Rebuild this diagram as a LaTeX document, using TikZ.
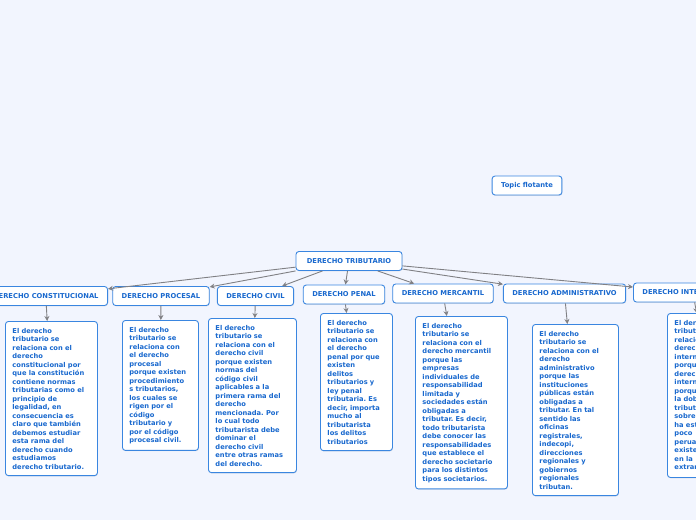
\documentclass[tikz,border=0pt]{standalone}
\usepackage{fontspec}
\setmainfont{DejaVu Sans}
\usetikzlibrary{arrows.meta,shadows}
\definecolor{paper}{RGB}{242,245,254}
\definecolor{edgeblue}{RGB}{58,134,224}
\definecolor{inkblue}{RGB}{24,104,206}
\definecolor{linkgray}{RGB}{128,128,132}
\frenchspacing
\tikzset{
  topicbox/.style={draw=edgeblue,line width=0.9pt,fill=white,rounded corners=3pt,
    text=inkblue,font=\bfseries\fontsize{6.75}{7}\selectfont,minimum height=19pt,
    inner xsep=9pt,drop shadow={shadow xshift=0.5pt,shadow yshift=-0.8pt,opacity=0.2}},
  notebox/.style={draw=edgeblue,line width=0.9pt,fill=white,rounded corners=3pt,
    text=inkblue,font=\bfseries\fontsize{6.7}{8.5}\selectfont,align=left,anchor=north west,
    inner xsep=7pt,inner ysep=6.5pt,drop shadow={shadow xshift=0.5pt,shadow yshift=-0.8pt,opacity=0.2}},
  link/.style={draw=linkgray,line width=0.9pt,-{Stealth[length=5pt,width=5pt]}}
}
\begin{document}
\begin{tikzpicture}[x=1pt,y=-1pt]
\useasboundingbox (0,0) rectangle (696,520);
\fill[paper] (0,0) rectangle (696,520);
\clip (0,0) rectangle (696,520);

\node[topicbox] (flot) at (527,185.5) {Topic flotante};
\node[topicbox,minimum width=106pt] (trib) at (349,261) {DERECHO TRIBUTARIO};

\node[topicbox,anchor=east] (const) at (108,296) {DERECHO CONSTITUCIONAL};
\node[topicbox] (proc) at (161,296) {DERECHO PROCESAL};
\node[topicbox] (civil) at (255.5,296) {DERECHO CIVIL};
\node[topicbox] (penal) at (344,294.5) {DERECHO PENAL};
\node[topicbox] (merc) at (443,293.5) {DERECHO MERCANTIL};
\node[topicbox] (admin) at (564.5,293.5) {DERECHO ADMINISTRATIVO};
\node[topicbox,anchor=west] (inter) at (633,292.5) {DERECHO INTERNACIONAL};

\node[notebox,text width=78pt] (tconst) at (5,321) {El derecho\\tributario se\\relaciona con el\\derecho\\constitucional por\\que la constitución\\contiene normas\\tributarias como el\\principio de\\legalidad, en\\consecuencia es\\claro que también\\debemos estudiar\\esta rama del\\derecho cuando\\estudiamos\\derecho tributario.};
\node[notebox,text width=62pt] (tproc) at (122,320) {El derecho\\tributario se\\relaciona con\\el derecho\\procesal\\porque existen\\procedimiento\\s tributarios,\\los cuales se\\rigen por el\\código\\tributario y\\por el código\\procesal civil.};
\node[notebox,text width=74pt] (tcivil) at (208,318) {El derecho\\tributario se\\relaciona con el\\derecho civil\\porque existen\\normas del\\código civil\\aplicables a la\\primera rama del\\derecho\\mencionada. Por\\lo cual todo\\tributarista debe\\dominar el\\derecho civil\\entre otras ramas\\del derecho.};
\node[notebox,text width=58pt] (tpenal) at (320,313) {El derecho\\tributario se\\relaciona con\\el derecho\\penal por que\\existen\\delitos\\tributarios y\\ley penal\\tributaria. Es\\decir, importa\\mucho al\\tributarista\\los delitos\\tributarios};
\node[notebox,text width=78pt] (tmerc) at (415,316) {El derecho\\tributario se\\relaciona con el\\derecho mercantil\\porque las\\empresas\\individuales de\\responsabilidad\\limitada y\\sociedades están\\obligadas a\\tributar. Es decir,\\todo tributarista\\debe conocer las\\responsabilidades\\que establece el\\derecho societario\\para los distintos\\tipos societarios.};
\node[notebox,text width=72pt] (tadmin) at (532,324) {El derecho\\tributario se\\relaciona con el\\derecho\\administrativo\\porque las\\instituciones\\públicas están\\obligadas a\\tributar. En tal\\sentido las\\oficinas\\registrales,\\indecopi,\\direcciones\\regionales y\\gobiernos\\regionales\\tributan.};
\node[notebox,text width=76pt] (tinter) at (667,313) {El derecho\\tributario se\\relaciona con el\\derecho\\internacional\\porque el\\derecho\\internacional\\porque\\la doble\\tributación\\sobre\\ha estado\\poco\\peruano\\existe\\en la\\extranjero};

\foreach \a in {const,proc,civil,penal,merc,admin,inter}
  \draw[link] (trib) -- (\a);
\foreach \a/\b in {const/tconst,proc/tproc,civil/tcivil,penal/tpenal,merc/tmerc,admin/tadmin,inter/tinter}
  \draw[link] (\a) -- (\b);
\end{tikzpicture}
\end{document}
